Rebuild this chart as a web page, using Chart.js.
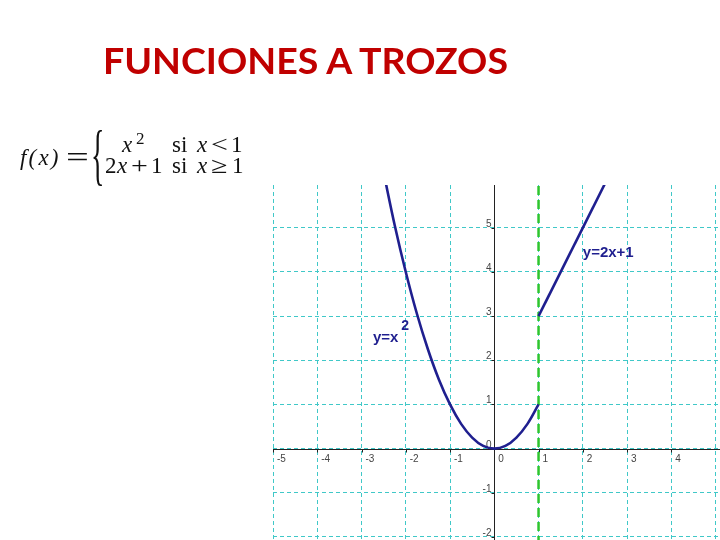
<!DOCTYPE html>
<html><head><meta charset="utf-8">
<script src="https://cdn.jsdelivr.net/npm/chart.js@4.4.1/dist/chart.umd.min.js"></script>
<style>
html,body{margin:0;padding:0;background:#fff;width:720px;height:540px;overflow:hidden;}
#wrap{position:relative;width:720px;height:540px;}
canvas{position:absolute;left:0;top:0;}
.t{position:absolute;white-space:nowrap;line-height:1;}
#title{left:103px;top:42px;font-family:Lato,'Open Sans',sans-serif;font-weight:700;font-size:36px;color:#c00000;transform-origin:0 0;}
.m{font-family:'Liberation Serif',serif;font-size:23px;color:#111;}
.i{font-style:italic;}
</style>
</head><body>
<div id="wrap">
<canvas id="c" width="720" height="540"></canvas>
<div id="title" class="t">FUNCIONES A TROZOS</div>
<span class="t m i" style="left:20px;top:145.7px;letter-spacing:2.2px;">f(x)</span>
<span class="t m" style="left:66px;top:141.5px;font-size:30px;transform:scaleX(1.35);transform-origin:0 0;">=</span>
<span class="t m" style="left:91px;top:121px;font-size:67px;transform:scaleX(0.42);transform-origin:0 0;">{</span>
<span class="t m i" style="left:122px;top:132.7px;">x</span>
<span class="t m" style="left:136px;top:129.5px;font-size:17px;">2</span>
<span class="t m" style="left:172px;top:132.7px;">si</span>
<span class="t m i" style="left:197px;top:132.7px;">x</span>
<span class="t m" style="left:211px;top:132.7px;transform:scaleX(1.3);transform-origin:0 0;">&lt;</span>
<span class="t m" style="left:231px;top:132.7px;">1</span>
<span class="t m" style="left:105px;top:153.7px;">2</span>
<span class="t m i" style="left:117px;top:153.7px;">x</span>
<span class="t m" style="left:131px;top:153.7px;transform:scaleX(1.3);transform-origin:0 0;">+</span>
<span class="t m" style="left:151px;top:153.7px;">1</span>
<span class="t m" style="left:172px;top:153.7px;">si</span>
<span class="t m i" style="left:197px;top:153.7px;">x</span>
<span class="t m" style="left:211px;top:153.7px;transform:scaleX(1.3);transform-origin:0 0;">≥</span>
<span class="t m" style="left:232px;top:153.7px;">1</span>
</div>
<script>
// ---- data ----
const xTickValues = [-5, -4, -3, -2, -1, 0, 1, 2, 3, 4];
const xTickLabels = ['-5', '-4', '-3', '-2', '-1', '0', '1', '2', '3', '4'];
const yTickValues = [-2, -1, 0, 1, 2, 3, 4, 5];
const yTickLabels = ['-2', '-1', '0', '1', '2', '3', '4', '5'];
const parabolaX = [-2.5, -2.25, -2, -1.75, -1.5, -1.25, -1, -0.75, -0.5, -0.25, 0, 0.25, 0.5, 0.75, 1];
const parabolaY = [6.25, 5.06, 4, 3.06, 2.25, 1.56, 1, 0.56, 0.25, 0.06, 0, 0.06, 0.25, 0.56, 1];
const lineX = [1, 2.5];
const lineY = [3, 6];
const boundaryX = [1, 1];
const boundaryY = [-2.5, 6.5];
const seriesLabels = ['y=x', 'y=2x+1', 'x=1'];

// fit title width
(function(){
  const t = document.getElementById('title');
  const w = t.getBoundingClientRect().width;
  if (w > 0) t.style.transform = 'scaleX(' + (405 / w) + ')';
})();

const toPts = (xs, ys) => xs.map((x, i) => ({x: x, y: ys[i]}));

const axesPlugin = {
  id: 'axesPlugin',
  beforeDatasetsDraw(chart) {
    const {ctx, chartArea: a, scales: {x, y}} = chart;
    const x0 = Math.round(x.getPixelForValue(0)) + 0.5;
    const y0 = Math.round(y.getPixelForValue(0)) + 0.5;
    ctx.save();
    ctx.strokeStyle = '#222';
    ctx.lineWidth = 1;
    ctx.beginPath();
    ctx.moveTo(a.left, y0); ctx.lineTo(a.right, y0);
    ctx.moveTo(x0, a.top); ctx.lineTo(x0, a.bottom);
    xTickValues.forEach(v => { const px = Math.round(x.getPixelForValue(v)) + 0.5; ctx.moveTo(px, y0); ctx.lineTo(px, y0 + 3); });
    yTickValues.forEach(v => { const py = Math.round(y.getPixelForValue(v)) + 0.5; ctx.moveTo(x0 - 3, py); ctx.lineTo(x0, py); });
    ctx.stroke();
    ctx.fillStyle = '#444';
    ctx.font = '10px "Liberation Sans", Arial, sans-serif';
    ctx.textAlign = 'left';
    ctx.textBaseline = 'middle';
    xTickValues.forEach((v, i) => {
      ctx.fillText(xTickLabels[i], x.getPixelForValue(v) + 4, y0 + 10);
    });
    ctx.textAlign = 'right';
    ctx.textBaseline = 'alphabetic';
    yTickValues.forEach((v, i) => {
      ctx.fillText(yTickLabels[i], x0 - 3, y.getPixelForValue(v) - 1);
    });
    ctx.restore();
  },
  afterDatasetsDraw(chart) {
    const {ctx, scales: {x, y}} = chart;
    ctx.save();
    ctx.fillStyle = '#1f1f8f';
    ctx.font = 'bold 15px "Liberation Sans", Arial, sans-serif';
    ctx.textAlign = 'left';
    ctx.textBaseline = 'alphabetic';
    ctx.fillText(seriesLabels[1], x.getPixelForValue(2.0), y.getPixelForValue(4.34));
    ctx.fillText(seriesLabels[0], x.getPixelForValue(-2.74), y.getPixelForValue(2.42));
    ctx.font = 'bold 14px "Liberation Sans", Arial, sans-serif';
    ctx.fillText('2', x.getPixelForValue(-2.1), y.getPixelForValue(2.69));
    ctx.restore();
  }
};

new Chart(document.getElementById('c'), {
  type: 'scatter',
  data: {
    datasets: [
      {
        label: seriesLabels[0],
        data: toPts(parabolaX, parabolaY),
        showLine: true,
        borderColor: '#1f1f8f',
        borderWidth: 2.6,
        pointRadius: 0,
        tension: 0.35,
        fill: false
      },
      {
        label: seriesLabels[1],
        data: toPts(lineX, lineY),
        showLine: true,
        borderColor: '#1f1f8f',
        borderWidth: 2.6,
        pointRadius: 0,
        fill: false
      },
      {
        label: seriesLabels[2],
        data: toPts(boundaryX, boundaryY),
        showLine: true,
        borderColor: '#2ec52e',
        borderWidth: 2.5,
        borderDash: [9, 5],
        pointRadius: 0,
        fill: false
      }
    ]
  },
  options: {
    responsive: false,
    animation: false,
    events: [],
    layout: {autoPadding: false, padding: {left: 273, top: 185, right: 0, bottom: 0}},
    plugins: {legend: {display: false}, tooltip: {enabled: false}},
    scales: {
      x: {
        type: 'linear', min: -5, max: 5.1,
        ticks: {display: false, stepSize: 1, includeBounds: false},
        grid: {color: '#40c8c8', lineWidth: 1, drawTicks: false, borderDash: [4, 3]},
        border: {display: false, dash: [4, 3]}
      },
      y: {
        type: 'linear', min: -2.07, max: 5.97,
        ticks: {display: false, stepSize: 1, includeBounds: false},
        grid: {color: '#40c8c8', lineWidth: 1, drawTicks: false, borderDash: [4, 3]},
        border: {display: false, dash: [4, 3]}
      }
    }
  },
  plugins: [axesPlugin]
});
</script>
</body></html>
